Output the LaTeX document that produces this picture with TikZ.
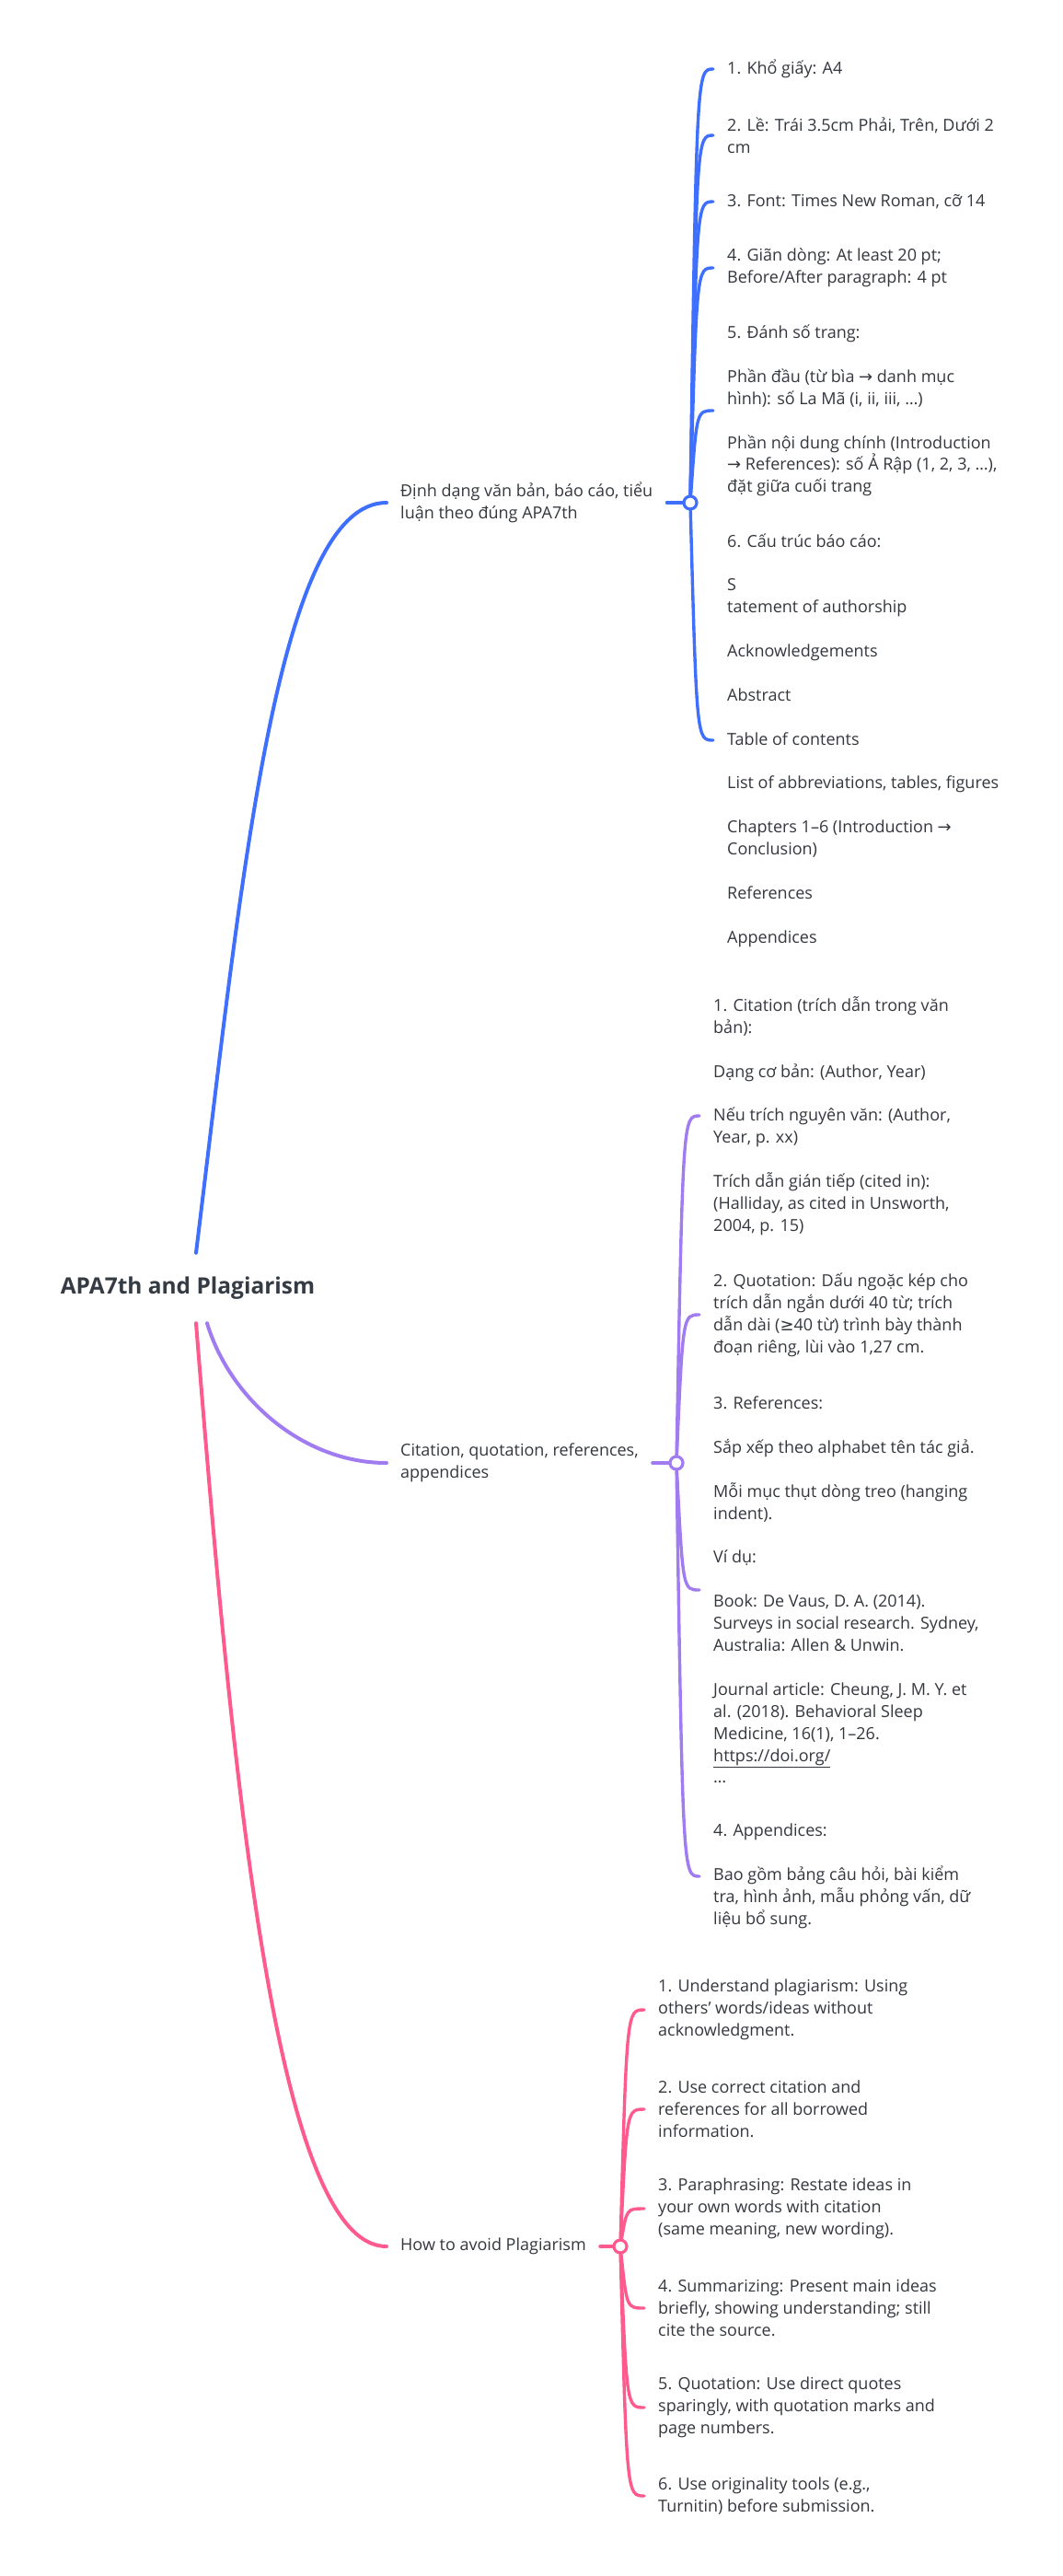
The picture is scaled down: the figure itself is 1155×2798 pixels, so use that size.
\documentclass[tikz,border=0pt]{standalone}
\usepackage{fontspec}
\setmainfont{Open Sans}
\newfontfamily\symfont{DejaVu Sans}
\usetikzlibrary{calc}
\definecolor{ink}{HTML}{33373D}
\definecolor{rootink}{HTML}{343B43}
\definecolor{bluebr}{HTML}{3F6FFF}
\definecolor{purplebr}{HTML}{A07CF0}
\definecolor{pinkbr}{HTML}{FF5A8E}
\newcommand{\arr}{{\symfont →}}
\newcommand{\gapline}{\\[23.9pt]}
\begin{document}
\begin{tikzpicture}[x=1pt, y=-1pt,
    leaf/.style={anchor=west, align=left, inner xsep=15pt, inner ysep=0pt, text=ink, font=\fontsize{18}{23.9}\selectfont},
    topic/.style={leaf},
    hub/.style={circle, fill=white, line width=3.2pt, minimum size=14pt, inner sep=0pt},
    trunk/.style={line width=4pt, line cap=round},
    twig/.style={line width=3.4pt, line cap=round}]
\useasboundingbox (0,0) rectangle (1155,2798);
\node[font=\fontsize{24.5}{30}\selectfont\bfseries, text=rootink, minimum height=76pt, inner xsep=0pt] (root) at (204,1399) {APA7th and Plagiarism};
% format branch
\node[topic] (fmt) at (420,546) {Định dạng văn bản, báo cáo, tiểu\\luận theo đúng APA7th};
\node[hub, draw=bluebr] (fmtc) at (750,546) {};
\draw[trunk, bluebr] ([xshift=9pt]root.north) .. controls (262,962) and (300,546) .. (fmt.west);
\draw[twig, bluebr] (fmt.east) -- (fmtc);
\node[leaf] (fmt1) at (775,75) {1. Khổ giấy: A4};
\node[leaf] (fmt2) at (775,147) {2. Lề: Trái 3.5cm Phải, Trên, Dưới 2\\cm};
\node[leaf] (fmt3) at (775,219) {3. Font: Times New Roman, cỡ 14};
\node[leaf] (fmt4) at (775,291) {4. Giãn dòng: At least 20 pt;\\Before/After paragraph: 4 pt};
\node[leaf] (fmt5) at (775,446) {5. Đánh số trang:\gapline Phần đầu (từ bìa \arr{} danh mục\\hình): số La Mã (i, ii, iii, …)\gapline Phần nội dung chính (Introduction\\\arr{} References): số Ả Rập (1, 2, 3, …),\\đặt giữa cuối trang};
\node[leaf] (fmt6) at (775,804) {6. Cấu trúc báo cáo:\gapline S\\tatement of authorship\gapline Acknowledgements\gapline Abstract\gapline Table of contents\gapline List of abbreviations, tables, figures\gapline Chapters 1–6 (Introduction \arr\\Conclusion)\gapline References\gapline Appendices};
\draw[twig, bluebr] (fmtc) .. controls ($(fmtc |- fmt1)+(7,0)$) .. (fmt1.west);
\draw[twig, bluebr] (fmtc) .. controls ($(fmtc |- fmt2)+(7,0)$) .. (fmt2.west);
\draw[twig, bluebr] (fmtc) .. controls ($(fmtc |- fmt3)+(7,0)$) .. (fmt3.west);
\draw[twig, bluebr] (fmtc) .. controls ($(fmtc |- fmt4)+(7,0)$) .. (fmt4.west);
\draw[twig, bluebr] (fmtc) .. controls ($(fmtc |- fmt5)+(7,0)$) .. (fmt5.west);
\draw[twig, bluebr] (fmtc) .. controls ($(fmtc |- fmt6)+(7,0)$) .. (fmt6.west);
% citation branch
\node[topic] (cite) at (420,1589) {Citation, quotation, references,\\appendices};
\node[hub, draw=purplebr] (citec) at (735,1589) {};
\draw[trunk, purplebr] ([xshift=21pt]root.south) .. controls (250,1520) and (330,1589) .. (cite.west);
\draw[twig, purplebr] (cite.east) -- (citec);
\node[leaf] (cite1) at (760,1212) {1. Citation (trích dẫn trong văn\\bản):\gapline Dạng cơ bản: (Author, Year)\gapline Nếu trích nguyên văn: (Author,\\Year, p. xx)\gapline Trích dẫn gián tiếp (cited in):\\(Halliday, as cited in Unsworth,\\2004, p. 15)};
\node[leaf] (cite2) at (760,1428) {2. Quotation: Dấu ngoặc kép cho\\trích dẫn ngắn dưới 40 từ; trích\\dẫn dài ({\symfont ≥}40 từ) trình bày thành\\đoạn riêng, lùi vào 1,27 cm.};
\node[leaf] (cite3) at (760,1727) {3. References:\gapline Sắp xếp theo alphabet tên tác giả.\gapline Mỗi mục thụt dòng treo (hanging\\indent).\gapline Ví dụ:\gapline Book: De Vaus, D. A. (2014).\\Surveys in social research. Sydney,\\Australia: Allen \& Unwin.\gapline Journal article: Cheung, J. M. Y. et\\al. (2018). Behavioral Sleep\\Medicine, 16(1), 1–26.\\\underline{https://doi.org/}\\…};
\node[leaf] (cite4) at (760,2038) {4. Appendices:\gapline Bao gồm bảng câu hỏi, bài kiểm\\tra, hình ảnh, mẫu phỏng vấn, dữ\\liệu bổ sung.};
\draw[twig, purplebr] (citec) .. controls ($(citec |- cite1)+(7,0)$) .. (cite1.west);
\draw[twig, purplebr] (citec) .. controls ($(citec |- cite2)+(7,0)$) .. (cite2.west);
\draw[twig, purplebr] (citec) .. controls ($(citec |- cite3)+(7,0)$) .. (cite3.west);
\draw[twig, purplebr] (citec) .. controls ($(citec |- cite4)+(7,0)$) .. (cite4.west);
% plagiarism branch
\node[topic] (plag) at (420,2440) {How to avoid Plagiarism};
\node[hub, draw=pinkbr] (plagc) at (674,2440) {};
\draw[trunk, pinkbr] ([xshift=9pt]root.south) .. controls (253,1937) and (300,2440) .. (plag.west);
\draw[twig, pinkbr] (plag.east) -- (plagc);
\node[leaf] (plag1) at (700,2183) {1. Understand plagiarism: Using\\others’ words/ideas without\\acknowledgment.};
\node[leaf] (plag2) at (700,2291) {2. Use correct citation and\\references for all borrowed\\information.};
\node[leaf] (plag3) at (700,2399) {3. Paraphrasing: Restate ideas in\\your own words with citation\\(same meaning, new wording).};
\node[leaf] (plag4) at (700,2507) {4. Summarizing: Present main ideas\\briefly, showing understanding; still\\cite the source.};
\node[leaf] (plag5) at (700,2615) {5. Quotation: Use direct quotes\\sparingly, with quotation marks and\\page numbers.};
\node[leaf] (plag6) at (700,2711) {6. Use originality tools (e.g.,\\Turnitin) before submission.};
\draw[twig, pinkbr] (plagc) .. controls ($(plagc |- plag1)+(7,0)$) .. (plag1.west);
\draw[twig, pinkbr] (plagc) .. controls ($(plagc |- plag2)+(7,0)$) .. (plag2.west);
\draw[twig, pinkbr] (plagc) .. controls ($(plagc |- plag3)+(7,0)$) .. (plag3.west);
\draw[twig, pinkbr] (plagc) .. controls ($(plagc |- plag4)+(7,0)$) .. (plag4.west);
\draw[twig, pinkbr] (plagc) .. controls ($(plagc |- plag5)+(7,0)$) .. (plag5.west);
\draw[twig, pinkbr] (plagc) .. controls ($(plagc |- plag6)+(7,0)$) .. (plag6.west);
\end{tikzpicture}
\end{document}
